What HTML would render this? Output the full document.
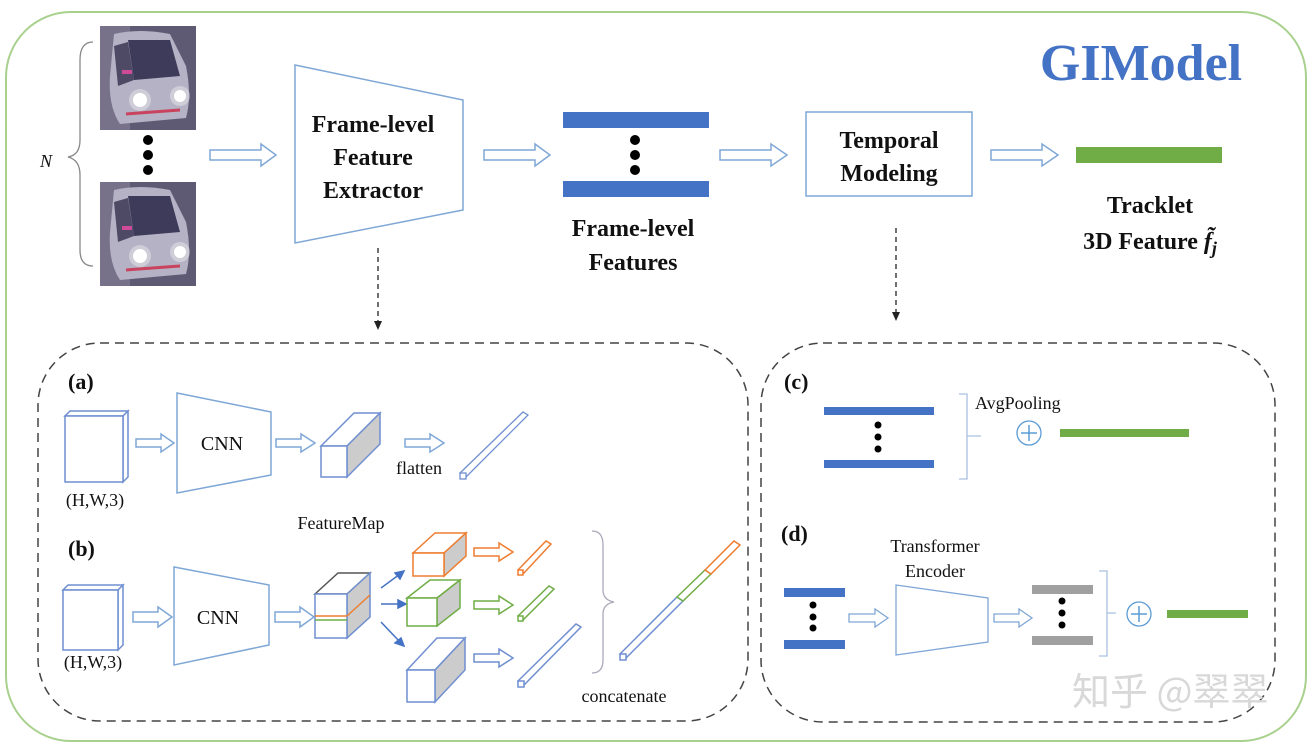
<!DOCTYPE html>
<html><head><meta charset="utf-8"><style>
html,body{margin:0;padding:0;background:#fff;}
svg{display:block;}
text{font-family:"Liberation Serif",serif;fill:#111;}
</style></head><body>
<svg width="1313" height="750" viewBox="0 0 1313 750" xmlns="http://www.w3.org/2000/svg">
<defs>
<g id="car">
  <rect x="0" y="0" width="96" height="104" fill="#5f5a73"/>
  <rect x="0" y="0" width="30" height="104" fill="#77728a"/>
  <path d="M14 8 Q40 2 70 8 L86 40 Q92 70 86 92 L20 98 Q8 80 10 50 Z" fill="#b4b2c4"/>
  <path d="M28 14 L70 14 L80 50 L34 54 Z" fill="#3d3a5a"/>
  <path d="M14 20 L28 16 L34 54 L18 60 Z" fill="#4e4a66"/>
  <circle cx="40" cy="74" r="7" fill="#fff"/>
  <circle cx="80" cy="70" r="6" fill="#fff"/>
  <circle cx="40" cy="74" r="11" fill="#fff" opacity="0.35"/>
  <circle cx="80" cy="70" r="10" fill="#fff" opacity="0.35"/>
  <rect x="22" y="44" width="10" height="4" fill="#d04a9a"/>
  <path d="M26 88 L80 84" stroke="#c9435e" stroke-width="3"/>
</g>
</defs>

<rect x="6" y="12" width="1300" height="729" rx="65" fill="none" stroke="#a9d18e" stroke-width="2"/>
<text x="1141" y="80" font-size="52" font-weight="bold" fill="#4472c4" style="fill:#4472c4" text-anchor="middle">GIModel</text>

<text x="40" y="167" font-size="18" font-style="italic">N</text>
<path d="M93 42 Q80 42 80 60 L80 140 Q80 155 68 157 Q80 160 80 175 L80 250 Q80 266 93 266" fill="none" stroke="#888" stroke-width="1.3"/>
<use href="#car" x="100" y="26"/>
<use href="#car" x="100" y="182"/>
<circle cx="148" cy="140" r="5"/><circle cx="148" cy="155" r="5"/><circle cx="148" cy="170" r="5"/>

<g fill="#fff" stroke="#7fa7d6" stroke-width="1.5">
<path d="M210 150 H261 V144 L276 155 L261 166 V160 H210 Z"/>
<path d="M484 150 H535 V144 L550 155 L535 166 V160 H484 Z"/>
<path d="M720 150 H771 V144 L787 155 L771 166 V160 H720 Z"/>
<path d="M991 150 H1042 V144 L1058 155 L1042 166 V160 H991 Z"/>
</g>

<polygon points="295,65 463,100 463,210 295,243" fill="#fff" stroke="#7fa7d6" stroke-width="1.5"/>
<g font-size="24" font-weight="bold" text-anchor="middle">
<text x="373" y="132">Frame-level</text>
<text x="373" y="165">Feature</text>
<text x="373" y="198">Extractor</text>
</g>

<rect x="563" y="112" width="146" height="16" fill="#4472c4"/>
<rect x="563" y="181" width="146" height="16" fill="#4472c4"/>
<circle cx="635" cy="140" r="5"/><circle cx="635" cy="155" r="5"/><circle cx="635" cy="170" r="5"/>
<g font-size="24" font-weight="bold" text-anchor="middle">
<text x="633" y="236">Frame-level</text>
<text x="633" y="270">Features</text>
</g>

<rect x="806" y="112" width="166" height="84" fill="#fff" stroke="#7fa7d6" stroke-width="1.5"/>
<g font-size="24" font-weight="bold" text-anchor="middle">
<text x="889" y="148">Temporal</text>
<text x="889" y="181">Modeling</text>
</g>

<rect x="1076" y="147" width="146" height="16" fill="#70ad47"/>
<g font-size="24" font-weight="bold" text-anchor="middle">
<text x="1150" y="213">Tracklet</text>
<text x="1150" y="249">3D Feature <tspan font-style="italic">f̃</tspan><tspan font-style="italic" font-size="18" dy="5">j</tspan></text>
</g>

<g stroke="#222" stroke-width="1.3" stroke-dasharray="5,4">
<line x1="378" y1="248" x2="378" y2="322"/>
<line x1="896" y1="228" x2="896" y2="313"/>
</g>
<path d="M374 321 L378 330 L382 321 Z" fill="#222"/>
<path d="M892 312 L896 321 L900 312 Z" fill="#222"/>

<g fill="none" stroke="#444" stroke-width="1.5" stroke-dasharray="9,6">
<rect x="38" y="343" width="710" height="378" rx="62"/>
<rect x="761" y="343" width="514" height="379" rx="62"/>
</g>

<text x="68" y="389" font-size="22" font-weight="bold">(a)</text>
<g fill="#fff" stroke="#6f8fd0" stroke-width="1.5">
<polygon points="65,416 70,411 128,411 123,416"/>
<polygon points="123,416 128,411 128,477 123,482"/>
<rect x="65" y="416" width="58" height="66"/>
</g>
<text x="95" y="506" font-size="18" text-anchor="middle">(H,W,3)</text>
<g fill="#fff" stroke="#7fa7d6" stroke-width="1.5">
<path d="M136 439 H161 V434 L174 443 L161 452 V447 H136 Z"/>
<path d="M276 439 H301 V434 L315 443 L301 452 V447 H276 Z"/>
<path d="M405 439 H430 V434 L444 443 L430 452 V447 H405 Z"/>
<polygon points="177,393 271,412 271,475 177,493"/>
</g>
<text x="222" y="450" font-size="20" text-anchor="middle">CNN</text>
<g stroke="#6f8fd0" stroke-width="1.5">
<polygon points="321,446 354,413 380,413 347,446" fill="#fff"/>
<polygon points="347,446 380,413 380,444 347,477" fill="#ccc"/>
<rect x="321" y="446" width="26" height="31" fill="#fff"/>
</g>
<text x="419" y="474" font-size="18" text-anchor="middle">flatten</text>
<g stroke="#6f8fd0" stroke-width="1.3" fill="#fff">
<polygon points="460,473 523,412 528,415 466,477"/>
<rect x="460" y="473" width="6" height="6"/>
</g>

<text x="341" y="529" font-size="18" text-anchor="middle">FeatureMap</text>
<text x="68" y="556" font-size="22" font-weight="bold">(b)</text>
<g fill="#fff" stroke="#6f8fd0" stroke-width="1.5">
<polygon points="63,590 68,585 123,585 118,590"/>
<polygon points="118,590 123,585 123,645 118,650"/>
<rect x="63" y="590" width="55" height="60"/>
</g>
<text x="93" y="668" font-size="18" text-anchor="middle">(H,W,3)</text>
<g fill="#fff" stroke="#7fa7d6" stroke-width="1.5">
<path d="M133 612 H158 V607 L172 617 L158 627 V622 H133 Z"/>
<path d="M275 612 H300 V607 L314 617 L300 627 V622 H275 Z"/>
<polygon points="174,567 269,585 269,645 174,665"/>
</g>
<text x="218" y="624" font-size="20" text-anchor="middle">CNN</text>
<g stroke-width="1.5">
<polygon points="315,594 338,573 370,573 347,594" fill="#fff" stroke="#555"/>
<polygon points="347,594 370,573 370,617 347,638" fill="#ccc" stroke="#6f8fd0"/>
<rect x="315" y="594" width="32" height="44" fill="#fff" stroke="#6f8fd0"/>
<line x1="315" y1="616" x2="347" y2="616" stroke="#ed7d31"/>
<line x1="347" y1="616" x2="370" y2="595" stroke="#ed7d31"/>
<line x1="315" y1="620" x2="347" y2="620" stroke="#70ad47"/>
</g>
<g stroke="#4472c4" stroke-width="1.5" fill="#4472c4">
<line x1="381" y1="588" x2="400" y2="574"/><path d="M404 571 L395 573 L400 579 Z"/>
<line x1="381" y1="604" x2="400" y2="604"/><path d="M406 604 L398 600 L398 608 Z"/>
<line x1="381" y1="622" x2="400" y2="642"/><path d="M404 646 L395 643 L401 638 Z"/>
</g>
<g stroke="#ed7d31" stroke-width="1.5">
<polygon points="413,553 435,533 466,533 444,553" fill="#fff"/>
<polygon points="444,553 466,533 466,556 444,576" fill="#ccc"/>
<rect x="413" y="553" width="31" height="23" fill="#fff"/>
<path d="M474 548 H499 V543 L513 552 L499 561 V556 H474 Z" fill="#fff"/>
<polygon points="518,570 546,541 551,544 523,574" fill="#fff"/>
<rect x="518" y="570" width="5" height="5" fill="#fff"/>
</g>
<g stroke="#70ad47" stroke-width="1.5">
<polygon points="407,598 430,580 460,580 437,598" fill="#fff"/>
<polygon points="437,598 460,580 460,608 437,626" fill="#ccc"/>
<rect x="407" y="598" width="30" height="28" fill="#fff"/>
<path d="M474 601 H499 V596 L513 605 L499 614 V609 H474 Z" fill="#fff"/>
<polygon points="518,616 549,586 554,589 523,620" fill="#fff"/>
<rect x="518" y="616" width="5" height="5" fill="#fff"/>
</g>
<g stroke="#6f8fd0" stroke-width="1.5">
<polygon points="407,670 437,638 465,638 435,670" fill="#fff"/>
<polygon points="435,670 465,638 465,670 435,702" fill="#ccc"/>
<rect x="407" y="670" width="28" height="32" fill="#fff"/>
<path d="M474 654 H499 V649 L513 658 L499 667 V662 H474 Z" fill="#fff"/>
<polygon points="518,681 576,624 581,627 524,685" fill="#fff"/>
<rect x="518" y="681" width="6" height="6" fill="#fff"/>
</g>
<path d="M592 531 Q603 531 603 545 L603 590 Q603 600 614 602 Q603 604 603 614 L603 660 Q603 673 592 673" fill="none" stroke="#aab" stroke-width="1.3"/>
<g stroke-width="1.5" fill="#fff">
<polygon points="620,654 677,597 683,601 626,658" stroke="#6f8fd0"/>
<rect x="620" y="654" width="6" height="6" stroke="#6f8fd0"/>
<polygon points="677,597 705,570 711,574 683,601" stroke="#70ad47"/>
<polygon points="705,570 734,541 740,545 711,574" stroke="#ed7d31"/>
</g>
<text x="624" y="702" font-size="18" text-anchor="middle">concatenate</text>

<text x="784" y="389" font-size="22" font-weight="bold">(c)</text>
<rect x="824" y="407" width="110" height="8" fill="#4472c4"/>
<rect x="824" y="460" width="110" height="8" fill="#4472c4"/>
<circle cx="878" cy="425" r="3.5"/><circle cx="878" cy="437" r="3.5"/><circle cx="878" cy="449" r="3.5"/>
<path d="M959 394 H967 V436 H981 M967 436 V479 H959" fill="none" stroke="#a9c0e0" stroke-width="1.3"/>
<text x="975" y="409" font-size="18">AvgPooling</text>
<circle cx="1029" cy="433" r="12" fill="#fff" stroke="#5b9bd5" stroke-width="1.3"/>
<path d="M1021 433 H1037 M1029 425 V441" stroke="#5b9bd5" stroke-width="1.5"/>
<rect x="1060" y="429" width="129" height="8" fill="#70ad47"/>

<text x="781" y="541" font-size="22" font-weight="bold">(d)</text>
<text x="935" y="552" font-size="18" text-anchor="middle">Transformer</text>
<text x="935" y="577" font-size="18" text-anchor="middle">Encoder</text>
<rect x="784" y="588" width="61" height="9" fill="#4472c4"/>
<rect x="784" y="640" width="61" height="9" fill="#4472c4"/>
<circle cx="813" cy="605" r="3.5"/><circle cx="813" cy="617" r="3.5"/><circle cx="813" cy="628" r="3.5"/>
<g fill="#fff" stroke="#7fa7d6" stroke-width="1.3">
<path d="M849 614 H875 V609 L888 618 L875 627 V622 H849 Z"/>
<path d="M994 614 H1019 V609 L1032 618 L1019 627 V622 H994 Z"/>
<polygon points="896,585 988,598 988,642 896,655"/>
</g>
<rect x="1032" y="585" width="61" height="9" fill="#a0a0a0"/>
<rect x="1032" y="636" width="61" height="9" fill="#a0a0a0"/>
<circle cx="1062" cy="601" r="3.5"/><circle cx="1062" cy="613" r="3.5"/><circle cx="1062" cy="625" r="3.5"/>
<path d="M1099 571 H1107 V613 H1116 M1107 613 V656 H1099" fill="none" stroke="#a9c0e0" stroke-width="1.3"/>
<circle cx="1139" cy="614" r="12" fill="#fff" stroke="#5b9bd5" stroke-width="1.3"/>
<path d="M1131 614 H1147 M1139 606 V622" stroke="#5b9bd5" stroke-width="1.5"/>
<rect x="1167" y="610" width="81" height="8" fill="#70ad47"/>

<text x="1072" y="705" font-size="38" style="font-family:'Noto Sans CJK SC','WenQuanYi Zen Hei',sans-serif;fill:#d8d8d8" fill="#d8d8d8">知乎 @翠翠</text>
</svg>
</body></html>
